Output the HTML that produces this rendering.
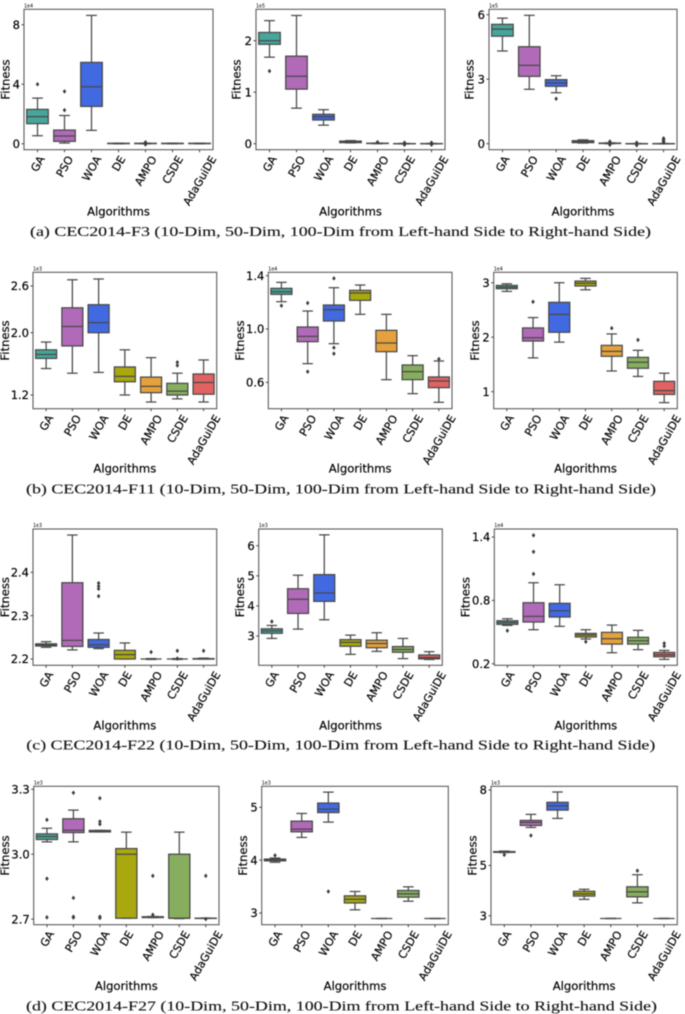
<!DOCTYPE html>
<html lang="en">
<head>
<meta charset="utf-8">
<title>CEC2014 fitness box plots</title>
<style>
html,body{margin:0;padding:0;background:#fff;}
body{width:685px;height:1014px;overflow:hidden;}
svg{display:block;filter:blur(0.4px);}
text{font-family:"DejaVu Sans","Liberation Sans",sans-serif;fill:#000;stroke:#000;stroke-width:0.18px;}
.cap{font-family:"Liberation Serif",serif;font-size:13.6px;fill:#111;stroke:#111;stroke-width:0.12px;}
</style>
</head>
<body>
<svg id="chart" xmlns="http://www.w3.org/2000/svg" width="685" height="1014" viewBox="0 0 685 1014">
<rect x="0" y="0" width="685" height="1014" fill="#fff"/>
<text class="cap" x="30" y="236" textLength="621" lengthAdjust="spacingAndGlyphs">(a)  CEC2014-F3 (10-Dim, 50-Dim, 100-Dim from Left-hand Side to Right-hand Side)</text>
<text class="cap" x="26" y="493.5" textLength="630" lengthAdjust="spacingAndGlyphs">(b)  CEC2014-F11 (10-Dim, 50-Dim, 100-Dim from Left-hand Side to Right-hand Side)</text>
<text class="cap" x="26.3" y="749.5" textLength="629" lengthAdjust="spacingAndGlyphs">(c)  CEC2014-F22 (10-Dim, 50-Dim, 100-Dim from Left-hand Side to Right-hand Side)</text>
<text class="cap" x="26" y="1010.5" textLength="631" lengthAdjust="spacingAndGlyphs">(d)  CEC2014-F27 (10-Dim, 50-Dim, 100-Dim from Left-hand Side to Right-hand Side)</text>
</svg>
<script>
// Categories and colours
const categories = ["GA","PSO","WOA","DE","AMPO","CSDE","AdaGuiDE"];
const boxColors = ["#46a69a","#b06ab8","#4169e1","#a9a90f","#e5a23c","#87ae5f","#e06262"];

// Each box row: [lower whisker, Q1, median, Q3, upper whisker]
const f3d10Boxes = [[0.54,1.35,1.82,2.31,3.07],[0.05,0.16,0.52,0.92,1.9],[0.9,2.51,3.83,5.47,8.63],[0,0.01,0.02,0.03,0.04],[0,0.01,0.02,0.03,0.04],[0,0.01,0.02,0.03,0.04],[0,0.01,0.02,0.03,0.04]];
const f3d10Fliers = [[4.0],[2.26,3.52],[],[],[0.1,-0.05],[],[]];
const f3d10Ticks = ["0","4","8"];

const f3d50Boxes = [[1.68,1.93,2.0,2.16,2.39],[0.69,1.06,1.31,1.70,2.49],[0.36,0.46,0.52,0.57,0.66],[0.015,0.02,0.035,0.05,0.06],[0,0.003,0.005,0.008,0.012],[-0.005,-0.002,0,0.002,0.005],[-0.005,-0.002,0,0.002,0.005]];
const f3d50Fliers = [[1.41],[],[],[],[0.03],[0.02,-0.02],[0.02,-0.02]];
const f3d50Ticks = ["0","1","2"];

const f3d100Boxes = [[4.31,5.0,5.33,5.55,5.84],[2.53,3.13,3.64,4.51,5.97],[2.37,2.67,2.82,2.98,3.16],[0.03,0.05,0.1,0.14,0.18],[0,0.01,0.02,0.03,0.04],[-0.01,-0.005,0,0.005,0.01],[-0.01,-0.005,0,0.005,0.01]];
const f3d100Fliers = [[],[],[2.09],[],[0.1,-0.05],[-0.07,0.05],[0.05,0.1,0.15,0.2,0.25]];
const f3d100Ticks = ["0","3","6"];

const f11d10Boxes = [[1.54,1.67,1.72,1.78,1.88],[1.48,1.83,2.08,2.32,2.68],[1.49,2.0,2.13,2.36,2.69],[1.2,1.37,1.44,1.56,1.78],[1.11,1.23,1.31,1.43,1.68],[1.15,1.2,1.25,1.35,1.48],[1.11,1.21,1.36,1.47,1.65]];
const f11d10Fliers = [[],[],[],[],[],[1.62,1.58],[]];
const f11d10Ticks = ["1.2","2.0","2.6"];

const f11d50Boxes = [[1.205,1.26,1.28,1.305,1.35],[0.74,0.905,0.945,1.015,1.135],[0.89,1.06,1.145,1.18,1.31],[1.11,1.215,1.27,1.29,1.33],[0.62,0.83,0.895,0.99,1.11],[0.515,0.62,0.68,0.73,0.80],[0.45,0.56,0.61,0.64,0.76]];
const f11d50Fliers = [[1.175],[1.195,0.68],[1.38,0.86,0.815],[],[],[],[0.775]];
const f11d50Ticks = ["0.6","1.0","1.4"];

const f11d100Boxes = [[2.84,2.89,2.92,2.95,2.98],[1.62,1.93,1.99,2.17,2.36],[1.91,2.09,2.42,2.64,3.0],[2.87,2.94,2.99,3.03,3.08],[1.38,1.65,1.74,1.85,2.06],[1.28,1.43,1.54,1.63,1.76],[0.80,0.95,1.02,1.19,1.34]];
const f11d100Fliers = [[],[2.65],[],[],[2.165],[1.95],[]];
const f11d100Ticks = ["1","2","3"];

const f22d10Boxes = [[2.227,2.23,2.232,2.235,2.24],[2.221,2.229,2.243,2.376,2.486],[2.224,2.227,2.233,2.245,2.26],[2.2,2.2,2.21,2.22,2.237],[2.199,2.2,2.2,2.2,2.201],[2.199,2.2,2.2,2.2,2.201],[2.2,2.2,2.2,2.201,2.202]];
const f22d10Fliers = [[],[],[2.345,2.362,2.368,2.375],[],[2.216],[2.219,2.201],[2.219]];
const f22d10Ticks = ["2.2","2.3","2.4"];

const f22d50Boxes = [[2.92,3.09,3.17,3.24,3.35],[3.23,3.75,4.22,4.57,5.02],[3.54,4.15,4.43,5.04,6.36],[2.39,2.66,2.79,2.88,3.03],[2.49,2.61,2.75,2.86,3.11],[2.25,2.46,2.55,2.65,2.92],[2.22,2.24,2.28,2.37,2.48]];
const f22d50Fliers = [[3.48],[],[],[],[],[],[]];
const f22d50Ticks = ["3","4","5","6"];

const f22d100Boxes = [[0.563,0.573,0.59,0.607,0.626],[0.522,0.595,0.648,0.778,0.967],[0.554,0.642,0.70,0.772,0.948],[0.434,0.453,0.472,0.487,0.522],[0.304,0.386,0.437,0.497,0.566],[0.333,0.386,0.418,0.45,0.516],[0.241,0.266,0.285,0.307,0.326]];
const f22d100Fliers = [[0.513],[1.05,1.26,1.416],[],[0.408],[],[],[0.367,0.393]];
const f22d100Ticks = ["0.2","0.8","1.4"];

const f27d10Boxes = [[3.057,3.068,3.082,3.094,3.12],[3.057,3.10,3.111,3.164,3.204],[3.103,3.103,3.106,3.11,3.11],[2.704,2.704,3.0,3.026,3.102],[2.707,2.707,2.708,2.711,2.712],[2.702,2.704,2.704,3.0,3.102],[2.703,2.703,2.704,2.704,2.705]];
const f27d10Fliers = [[3.159,2.887,2.708],[3.284,2.798,2.711,2.707],[3.259,3.151,3.139,2.711,2.705],[],[2.9,2.72],[],[2.9,2.70]];
const f27d10Ticks = ["2.7","3.0","3.3"];

const f27d50Boxes = [[3.96,3.987,4.0,4.02,4.04],[4.43,4.536,4.587,4.738,4.883],[4.72,4.90,4.965,5.08,5.287],[3.06,3.19,3.26,3.325,3.407],[2.895,2.896,2.896,2.896,2.897],[3.224,3.30,3.363,3.426,3.495],[2.895,2.896,2.896,2.896,2.897]];
const f27d50Fliers = [[4.09],[],[3.407],[],[],[],[]];
const f27d50Ticks = ["3","4","5"];

const f27d100Boxes = [[5.51,5.52,5.54,5.55,5.57],[6.51,6.59,6.71,6.79,7.03],[6.87,7.2,7.37,7.51,7.92],[3.65,3.78,3.87,3.97,4.05],[2.885,2.89,2.89,2.89,2.895],[3.51,3.75,3.95,4.15,4.63],[2.885,2.89,2.89,2.89,2.895]];
const f27d100Fliers = [[5.42],[6.19],[],[],[],[4.79],[]];
const f27d100Ticks = ["3","5","8"];

// Axis ranges (data units) per panel
const yRanges = {
  f3d10:[-0.40,9.04], f3d50:[-0.117,2.61], f3d100:[-0.279,6.25],
  f11d10:[1.024,2.776], f11d50:[0.402,1.4255], f11d100:[0.688,3.191],
  f22d10:[2.1855,2.4999], f22d50:[2.027,6.555], f22d100:[0.185,1.476],
  f27d10:[2.674,3.314], f27d50:[2.779,5.397], f27d100:[2.642,8.147]
};
const exponents = {f3d10:"1e4",f3d50:"1e5",f3d100:"1e5",f11d10:"1e3",f11d50:"1e4",f11d100:"1e4",f22d10:"1e3",f22d50:"1e3",f22d100:"1e4",f27d10:"1e3",f27d50:"1e3",f27d100:"1e3"};

// Page layout of the panels (frames, label offsets)
const layout = [
  {id:"f3d10",boxes:f3d10Boxes,fliers:f3d10Fliers,ticks:f3d10Ticks,l:24,r:213,t:9.3,b:149.7,yl:5.5,xl:215.5},
  {id:"f3d50",boxes:f3d50Boxes,fliers:f3d50Fliers,ticks:f3d50Ticks,l:256,r:445,t:9.3,b:149.7,yl:236.7,xl:215.5},
  {id:"f3d100",boxes:f3d100Boxes,fliers:f3d100Fliers,ticks:f3d100Ticks,l:489,r:677,t:9.3,b:149.7,yl:469.3,xl:215.5},
  {id:"f11d10",boxes:f11d10Boxes,fliers:f11d10Fliers,ticks:f11d10Ticks,l:33,r:216.7,t:272.3,b:408.7,yl:5,xl:472.5},
  {id:"f11d50",boxes:f11d50Boxes,fliers:f11d50Fliers,ticks:f11d50Ticks,l:268.3,r:452,t:272.3,b:408.7,yl:240,xl:472.5},
  {id:"f11d100",boxes:f11d100Boxes,fliers:f11d100Fliers,ticks:f11d100Ticks,l:493.7,r:677.3,t:272.3,b:408.7,yl:475,xl:472.5},
  {id:"f22d10",boxes:f22d10Boxes,fliers:f22d10Fliers,ticks:f22d10Ticks,l:33,r:216.7,t:529,b:665.3,yl:5,xl:729.5},
  {id:"f22d50",boxes:f22d50Boxes,fliers:f22d50Fliers,ticks:f22d50Ticks,l:258.7,r:442.3,t:529,b:665.3,yl:240,xl:729.5},
  {id:"f22d100",boxes:f22d100Boxes,fliers:f22d100Fliers,ticks:f22d100Ticks,l:494.3,r:677.3,t:529,b:665.3,yl:465.7,xl:729.5},
  {id:"f27d10",boxes:f27d10Boxes,fliers:f27d10Fliers,ticks:f27d10Ticks,l:33.7,r:219,t:786.3,b:924.7,yl:5,xl:990},
  {id:"f27d50",boxes:f27d50Boxes,fliers:f27d50Fliers,ticks:f27d50Ticks,l:261.7,r:448.3,t:786.3,b:924.7,yl:243,xl:990},
  {id:"f27d100",boxes:f27d100Boxes,fliers:f27d100Fliers,ticks:f27d100Ticks,l:491,r:677.3,t:786.3,b:924.7,yl:472.3,xl:990}
];

const NS = "http://www.w3.org/2000/svg";
const root = document.getElementById("chart");
const LINE = "#484848";
const LW = 1.25;

function make(tag, parent, attrs) {
  const el = document.createElementNS(NS, tag);
  for (const k in attrs) el.setAttribute(k, attrs[k]);
  parent.appendChild(el);
  return el;
}

function drawPanel(p) {
  const range = yRanges[p.id];
  const scaleY = v => p.b - (v - range[0]) / (range[1] - range[0]) * (p.b - p.t);
  const step = (p.r - p.l) / categories.length;
  const scaleX = i => p.l + step * (i + 0.5);

  const g = make("g", root, {});
  
  

  // Boxes
  p.boxes.forEach((s, i) => {
    const name = categories[i].toLowerCase();
    const cx = scaleX(i), bw = step * 0.8, cap = step * 0.4;
    const bg = make("g", g, {});
    
    

    const wl = make("line", bg, {x1:cx, x2:cx, y1:scaleY(s[0]), y2:scaleY(s[1]), stroke:LINE, "stroke-width":LW});
    
    
    const wh = make("line", bg, {x1:cx, x2:cx, y1:scaleY(s[3]), y2:scaleY(s[4]), stroke:LINE, "stroke-width":LW});
    
    
    const cl = make("line", bg, {x1:cx-cap/2, x2:cx+cap/2, y1:scaleY(s[0]), y2:scaleY(s[0]), stroke:LINE, "stroke-width":LW});
    
    
    const ch = make("line", bg, {x1:cx-cap/2, x2:cx+cap/2, y1:scaleY(s[4]), y2:scaleY(s[4]), stroke:LINE, "stroke-width":LW});
    
    
    const rect = make("rect", bg, {x:cx-bw/2, width:bw, y:scaleY(s[3]), height:Math.max(0, scaleY(s[1])-scaleY(s[3])), fill:boxColors[i], stroke:LINE, "stroke-width":LW});
    
    
    const med = make("line", bg, {x1:cx-bw/2, x2:cx+bw/2, y1:scaleY(s[2]), y2:scaleY(s[2]), stroke:LINE, "stroke-width":LW});
    
    

    p.fliers[i].forEach(v => {
      const y = scaleY(v);
      const d = make("polygon", bg, {points:[cx,y-2.3,cx+1.8,y,cx,y+2.3,cx-1.8,y].join(" "), fill:"#3c3c3c"});
      
      
    });
  });

  // Frame
  const frame = make("rect", g, {x:p.l, y:p.t, width:p.r-p.l, height:p.b-p.t, fill:"none", stroke:"#5c5c5c", "stroke-width":1.1});
  
  

  // Y ticks
  p.ticks.forEach(label => {
    const y = scaleY(Number(label));
    const tk = make("line", g, {x1:p.l-2.5, x2:p.l, y1:y, y2:y, stroke:"#333", "stroke-width":0.9});
    
    
    const tx = make("text", g, {x:p.l-4, y:y+4.2, "text-anchor":"end", "font-size":11.5});
    tx.textContent = label;
    
    
  });

  // X ticks
  categories.forEach((c, i) => {
    const x = scaleX(i);
    const tk = make("line", g, {x1:x, x2:x, y1:p.b, y2:p.b+2.5, stroke:"#333", "stroke-width":0.9});
    
    
    const tx = make("text", g, {"text-anchor":"middle", "font-size":11});
    tx.textContent = c;
    
    
    const w = tx.getComputedTextLength();
    const halfH = (w * Math.sin(Math.PI/3) + 12 * Math.cos(Math.PI/3)) / 2;
    tx.setAttribute("transform", "translate(" + x + "," + (p.b + 4 + halfH) + ") rotate(-60) translate(0,4)");
  });

  // Axis titles
  const xt = make("text", g, {x:(p.l+p.r)/2, y:p.xl, "text-anchor":"middle", "font-size":11.6});
  xt.textContent = "Algorithms";
  
  
  const yc = (p.t+p.b)/2;
  const yt = make("text", g, {"text-anchor":"middle", "font-size":11.6, transform:"translate(" + (p.yl+4) + "," + yc + ") rotate(-90)"});
  yt.textContent = "Fitness";
  
  

  // Offset text
  const ot = make("text", g, {x:p.l, y:p.t-1.8, "font-size":4.8, style:"stroke-width:0"});
  ot.textContent = exponents[p.id];
  
  
}

layout.forEach(drawPanel);
</script>
</body>
</html>
